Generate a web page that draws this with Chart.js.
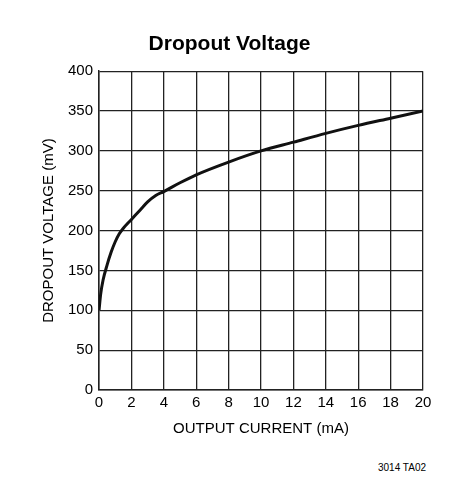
<!DOCTYPE html>
<html>
<head>
<meta charset="utf-8">
<script src="https://cdn.jsdelivr.net/npm/chart.js@4"></script>
<style>
  body { margin: 0; background: #fff; }
  #wrap { position: relative; width: 474px; height: 485px; }
  #note { position: absolute; left: 378px; top: 462px; font: 10px "Liberation Sans", Arial, sans-serif; }
</style>
</head>
<body>
<div id="wrap">
  <canvas id="chart" width="474" height="460"></canvas>
  <div id="note">3014 TA02</div>
</div>
<script>
const currentMa = [0, 0.1, 0.25, 0.5, 0.75, 1, 1.25, 1.5, 2, 2.5, 3, 3.5, 4, 5, 6, 8, 10, 12, 14, 16, 18, 20];
const dropoutMv = [100, 120, 138, 157, 173, 186, 196, 203, 214, 225, 236, 244, 249, 260, 270, 286, 300, 311, 322, 332, 341, 350];
const xTicks = [0, 2, 4, 6, 8, 10, 12, 14, 16, 18, 20];

const font = { family: '"Liberation Sans Narrow", "Liberation Sans", Arial, sans-serif', size: 15 };

new Chart(document.getElementById('chart'), {
    type: 'line',
    data: {
        datasets: [{
            data: currentMa.map((x, i) => ({ x: x, y: dropoutMv[i] })),
            borderColor: '#111',
            borderWidth: 3,
            pointRadius: 0,
            cubicInterpolationMode: 'monotone',
        }],
    },
    options: {
        responsive: false,
        animation: false,
        layout: { padding: { left: 36, right: 51, top: 0, bottom: 18 } },
        plugins: {
            legend: { display: false },
            tooltip: { enabled: false },
            title: {
                display: true,
                text: 'Dropout Voltage',
                color: '#000',
                font: { family: font.family, size: 21, weight: 'bold' },
                padding: { top: 32, bottom: 14 },
            },
        },
        scales: {
            x: {
                type: 'linear',
                min: 0, max: 20,
                afterBuildTicks: axis => { axis.ticks = xTicks.map(v => ({ value: v })); },
                grid: { color: '#222', lineWidth: 1.3, drawTicks: false },
                border: { color: '#222', width: 1.5 },
                ticks: { color: '#000', font: font, padding: 4, maxRotation: 0 },
                title: { display: true, text: 'OUTPUT CURRENT (mA)', color: '#000', font: font, padding: { top: 4 } },
            },
            y: {
                min: 0, max: 400,
                ticks: { stepSize: 50, color: '#000', font: font, padding: 6 },
                grid: { color: '#222', lineWidth: 1.3, drawTicks: false },
                border: { color: '#222', width: 1.5 },
                title: { display: true, text: 'DROPOUT VOLTAGE (mV)', color: '#000', font: font, padding: { bottom: 4 } },
            },
        },
    },
});
</script>
</body>
</html>
